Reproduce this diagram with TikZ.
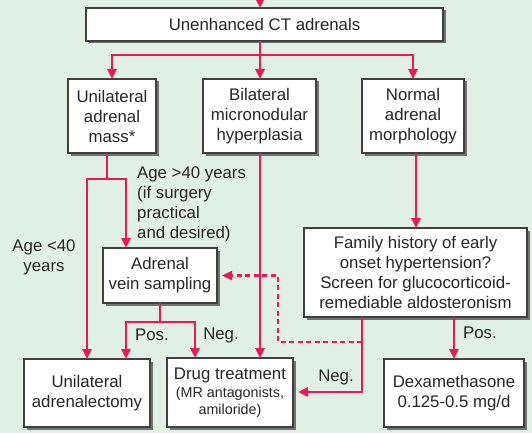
\documentclass[tikz,border=0pt]{standalone}
\usepackage{fontspec}
\setmainfont{Liberation Sans}
\usetikzlibrary{arrows.meta,shadows}
\definecolor{bgc}{HTML}{E1F0E6}
\definecolor{redc}{HTML}{E8185A}
\definecolor{txt}{HTML}{262626}
\tikzset{
  box/.style={draw=black!75, line width=1.4pt, fill=white, inner sep=0pt, outer sep=0pt,
    align=center, text=txt, font=\fontsize{16.8}{20}\selectfont,
    drop shadow={shadow xshift=2.5pt, shadow yshift=-2.5pt, fill=black!55, opacity=1}},
  arr/.style={draw=redc, line width=2.6pt, -{Triangle[length=10pt,width=9pt]}},
  ln/.style={draw=redc, line width=2.6pt},
  dsh/.style={draw=redc, line width=2.3pt, dash pattern=on 5pt off 3.5pt, -{Triangle[length=10pt,width=9pt]}},
  lbl/.style={inner sep=0pt, text=txt, font=\fontsize{16.8}{20}\selectfont}
}
\begin{document}
\begin{tikzpicture}[x=1pt,y=-1pt]
\fill[bgc] (0,0) rectangle (532,433);
\useasboundingbox (0,0) rectangle (532,433);
% boxes
\node[box, minimum width=357pt, minimum height=33pt] (top) at (264.5,24.5) {Unenhanced CT adrenals};
\node[box, minimum width=88pt, minimum height=74pt] (b1) at (112,116) {Unilateral\\adrenal\\mass*};
\node[box, minimum width=113pt, minimum height=74pt] (b2) at (259.5,116) {Bilateral\\micronodular\\hyperplasia};
\node[box, minimum width=102pt, minimum height=74pt] (b3) at (413,116) {Normal\\adrenal\\morphology};
\node[box, minimum width=114pt, minimum height=55pt] (avs) at (160,275.5) {Adrenal\\vein sampling};
\node[box, minimum width=223pt, minimum height=89pt] (fam) at (415.5,272.5) {Family history of early\\onset hypertension?\\Screen for glucocorticoid-\\remediable aldosteronism};
\node[box, minimum width=126pt, minimum height=68pt] (ua) at (87,393) {Unilateral\\adrenalectomy};
\node[box, minimum width=126pt, minimum height=69pt] (drug) at (230,392.5) {Drug treatment\\[-2pt]{\fontsize{14.3}{17}\selectfont (MR antagonists,}\\[-3pt]{\fontsize{14.3}{17}\selectfont amiloride)}};
\node[box, minimum width=140pt, minimum height=68pt] (dexa) at (454,393) {Dexamethasone\\0.125-0.5 mg/d};
% labels
\node[lbl, align=left, anchor=west] (l40a) at (137,204) {Age >40 years\\(if surgery\\practical\\and desired)};
\node[lbl, align=center] (l40b) at (44,257) {Age <40\\years};
\node[lbl] (pos1) at (152,335) {Pos.};
\node[lbl] (neg1) at (221,335) {Neg.};
\node[lbl] (neg2) at (336,377) {Neg.};
\node[lbl] (pos2) at (480,333) {Pos.};
% coordinates
\coordinate (topin) at (260,-12);
\coordinate (j1) at (260,55);
\coordinate (j2) at (107,179);
\coordinate (k1) at (126,179);
\coordinate (j3) at (160,322);
\coordinate (k2) at (126,322);
\coordinate (k3) at (195,322);
\coordinate (j4) at (362,392);
\coordinate (d1) at (362,342);
\coordinate (d2) at (278,275.5);
\coordinate (j5) at (416,153);
% connectors
\draw[arr] (topin) -- (top.north -| topin);
\draw[ln] (top.south -| j1) -- (j1);
\draw[arr] (j1) -- (b2.north -| j1);
\draw[arr] (j1) -| (b1.north);
\draw[arr] (j1) -| (b3.north);
\draw[ln] (b1.south -| j2) -- (j2);
\draw[arr] (j2) -| (ua.north);
\draw[arr] (j2) -- (k1) -- (k1 |- avs.north);
\draw[ln] (avs.south) -- (j3);
\draw[arr] (j3) -- (k2) -- (k2 |- ua.north);
\draw[arr] (j3) -- (k3) -- (k3 |- drug.north);
\draw[arr] (b2.south -| j1) -- (drug.north -| j1);
\draw[arr] (j5) -- (j5 |- fam.north);
\draw[arr] (fam.south -| dexa.north) -- (dexa.north);
\draw[arr, shorten >=5pt] (fam.south -| j4) -- (j4) -- (drug.east |- j4);
\draw[dsh, shorten >=5pt] (d1) -| (d2) -- (avs.east);
\end{tikzpicture}
\end{document}
